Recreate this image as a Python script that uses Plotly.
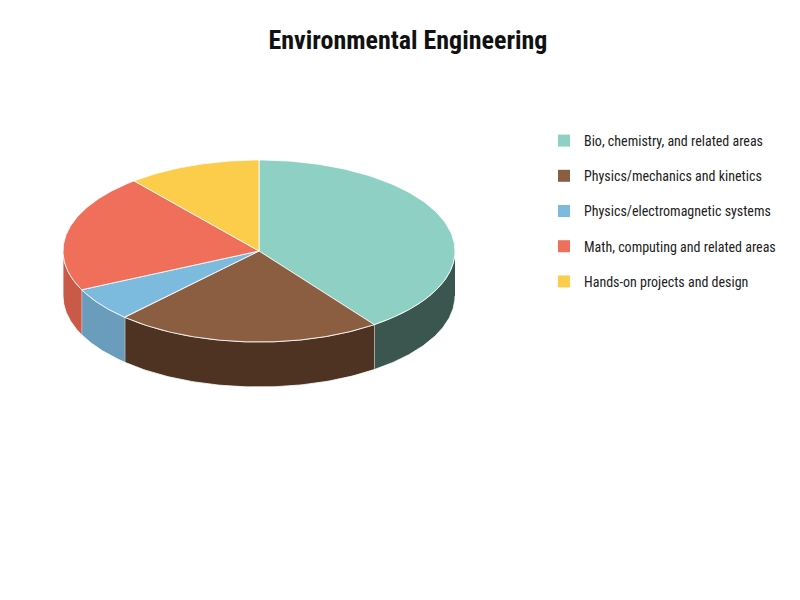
import numpy as np
import plotly.graph_objects as go

# Data
labels = ["Bio, chemistry, and related areas", "Physics/mechanics and kinetics",
          "Physics/electromagnetic systems", "Math, computing and related areas",
          "Hands-on projects and design"]
values = [40, 22, 6, 21, 11]
colors = ["#8fd0c4", "#8b5e42", "#7cbade", "#ef6f5b", "#fccd4b"]
side_colors = ["#3a564f", "#4e3323", "#6a9cbc", "#c95a48", "#c9a13a"]

# pie geometry (pixel space)
cx, cy, rx, ry, depth = 251, 243, 196, 91, 45


def ell(t):
    r = np.radians(t)
    return cx + rx * np.sin(r), cy - ry * np.cos(r)


fig = go.Figure()
total = sum(values)
edges = np.concatenate([[0], np.cumsum(values) / total * 360])

# side walls (front half only: 90..270 deg clockwise from top)
for i in range(len(values)):
    a0, a1 = max(edges[i], 90), min(edges[i + 1], 270)
    if a1 <= a0:
        continue
    t = np.linspace(a0, a1, 80)
    x, y = ell(t)
    xs = np.concatenate([x, x[::-1]])
    ys = np.concatenate([y, y[::-1] + depth])
    fig.add_trace(go.Scatter(x=xs, y=ys, fill="toself", mode="lines",
                             fillcolor=side_colors[i],
                             line=dict(color="white", width=0.8),
                             hoverinfo="skip", showlegend=False))

# top faces
for i in range(len(values)):
    t = np.linspace(edges[i], edges[i + 1], 120)
    x, y = ell(t)
    xs = np.concatenate([[cx], x, [cx]])
    ys = np.concatenate([[cy], y, [cy]])
    fig.add_trace(go.Scatter(x=xs, y=ys, fill="toself", mode="lines",
                             fillcolor=colors[i],
                             line=dict(color="white", width=0.8),
                             name=labels[i], hoverinfo="name", showlegend=False))

# legend entries
for i, lab in enumerate(labels):
    fig.add_trace(go.Scatter(x=[None], y=[None], mode="markers", name=lab,
                             legendgroup=str(i),
                             marker=dict(symbol="square", size=22, color=colors[i])))

fig.update_layout(
    width=800, height=600,
    margin=dict(l=0, r=0, t=0, b=0, autoexpand=False),
    plot_bgcolor="white", paper_bgcolor="white",
    title=dict(text="<b>Environmental Engineering</b>", x=0.5, y=0.947, xanchor="center",
               yanchor="middle",
               font=dict(family="Roboto Condensed, Roboto, sans-serif", size=26, color="#111")),
    xaxis=dict(range=[0, 800], visible=False, fixedrange=True),
    yaxis=dict(range=[600, 0], visible=False, fixedrange=True),
    legend=dict(x=0.67, y=0.805, xanchor="left", yanchor="top",
                font=dict(family="Roboto Condensed, Roboto, sans-serif", size=14, color="#222"),
                tracegroupgap=14, itemsizing="constant"),
)

fig.write_html("out.html")
